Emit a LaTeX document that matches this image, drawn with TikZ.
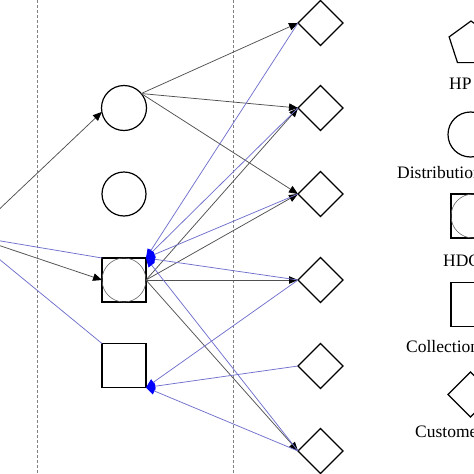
\documentclass[tikz,border=0pt]{standalone}
\usepackage{fontspec}
\setmainfont{Liberation Serif}
\usetikzlibrary{arrows.meta,shapes.geometric}
\definecolor{edgeblue}{HTML}{7070CC}
\definecolor{tipblue}{HTML}{0000FF}
\definecolor{edgegray}{HTML}{505050}
\begin{document}
\begin{tikzpicture}[x=1pt,y=-1pt,
  shp/.style={draw=black,line width=1.2pt,inner sep=0pt,outer sep=0pt},
  dccircle/.style={shp,circle,minimum size=45pt},
  sqbox/.style={shp,rectangle,minimum width=44pt,minimum height=44pt},
  custd/.style={shp,diamond,minimum width=45pt,minimum height=45pt},
  fwd/.style={draw=edgegray,line width=0.75pt,-{Triangle[length=9pt,width=7.5pt,color=black]}},
  rev/.style={draw=edgeblue,line width=0.75pt,-{Triangle[length=9pt,width=7.5pt,color=tipblue]}},
  divider/.style={draw=gray,line width=0.6pt,dash pattern=on 3pt off 2pt},
  inner/.style={draw=gray!80!black,line width=0.6pt},
  lbl/.style={anchor=base west,inner sep=0pt,font=\fontsize{17.5}{20}\selectfont}]
\useasboundingbox (0,0) rectangle (474,474);
\clip (0,0) rectangle (474,474);
% dividers
\draw[divider] (37,0) -- (37,474);
\draw[divider] (233,0) -- (233,474);
% nodes
\coordinate (hp) at (-29,236);
\node[dccircle] (dc1) at (124,108) {};
\node[dccircle,minimum size=44pt] (dc2) at (124,194) {};
\node[sqbox] (hdc) at (124,280) {};
\draw[inner] (hdc.center) circle (22pt);
\node[sqbox] (col) at (124,365.5) {};
\foreach \i/\y in {1/23,2/108,3/194,4/280,5/366,6/451}
  \node[custd] (c\i) at (320.5,\y) {};
% edges
\draw[fwd] (hp) -- (dc1.190);
\draw[fwd] (hp) -- (hdc.west);
\draw[rev] (hdc.north west) -- (hp);
\draw[rev] (col.north west) -- (hp);
\foreach \i in {1,2,3} \draw[fwd] (dc1.40) -- (c\i.west);
\foreach \i in {2,3,4,6} \draw[fwd] (hdc.east) -- (c\i.west);
\foreach \i in {1,2,3,4,6} \draw[rev] (c\i.west) -- (hdc.north east);
\foreach \i in {4,5,6} \draw[rev] (c\i.west) -- (col.south east);
% legend
\node[shp,regular polygon,regular polygon sides=5,minimum size=46pt] (lhp) at (471,44) {};
\node[dccircle] (ldc) at (470.5,134.5) {};
\node[sqbox] (lhdc) at (473,216) {};
\draw[inner] (lhdc.center) circle (22pt);
\node[sqbox] (lcol) at (473,304.5) {};
\node[custd] (lcus) at (470.5,394.5) {};
\node[lbl] (thp) at (449,89) {HP};
\node[lbl] (tdc) at (397,178) {Distribution};
\node[lbl] (thdc) at (443,266) {HDC};
\node[lbl] (tcol) at (406,352) {Collection};
\node[lbl] (tcus) at (415,437) {Customer};
\end{tikzpicture}
\end{document}
